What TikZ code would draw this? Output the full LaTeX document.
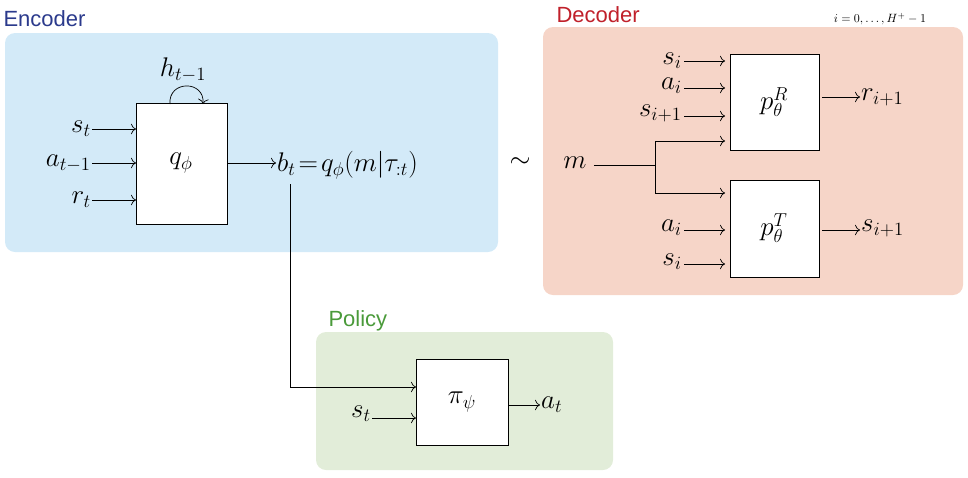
\documentclass[tikz,border=0pt]{standalone}
\usepackage{fontspec}
\newfontfamily\lab{Liberation Sans}
\usetikzlibrary{arrows.meta}
\definecolor{encf}{HTML}{D3EAF8}
\definecolor{decf}{HTML}{F6D5C8}
\definecolor{polf}{HTML}{E2EDD9}
\definecolor{encc}{HTML}{2B3A8C}
\definecolor{decc}{HTML}{C0202A}
\definecolor{polc}{HTML}{4A9A3A}
\newcommand{\LgMath}[1]{\scalebox{1.3}{\huge$#1$}}
\begin{document}
\begin{tikzpicture}[x=1pt,y=-1pt,
  title/.style={font=\lab\fontsize{22}{24}\selectfont,anchor=west},
  blk/.style={draw,fill=white,line width=0.8pt},
  m/.style={inner sep=1pt},
  arr/.style={-{To[length=5pt]},line width=0.7pt}]
\useasboundingbox (0,0) rectangle (968,477);
\fill[encf,rounded corners=10pt] (5,33) rectangle (498,252);
\fill[decf,rounded corners=10pt] (543,27) rectangle (963,295);
\fill[polf,rounded corners=10pt] (316,332) rectangle (613,470);
\node[title,text=encc] (enc) at (0,19) {Encoder};
\node[title,text=decc] (dec) at (553,15) {Decoder};
\node[title,text=polc] (pol) at (325,321) {Policy};
\node (rng) at (880,19) {\scalebox{1.2}{\normalsize$i=0,\dots,H^{+}-1$}};
% encoder
\path[blk] (136,103) rectangle (227,224);
\node[m] (q) at (181,163) {\LgMath{q_\phi}};
\node[m] (h) at (183,70) {\LgMath{h_{t-1}}};
\draw[arr] (170,104) .. controls (168,80) and (205,80) .. (203,104);
\node[m,anchor=east] (st) at (92,129) {\LgMath{s_t}};
\node[m,anchor=east] (at1) at (92,163) {\LgMath{a_{t-1}}};
\node[m,anchor=east] (rt) at (92,200) {\LgMath{r_t}};
\coordinate (qi1) at (136,129); \coordinate (qi2) at (136,163); \coordinate (qi3) at (136,200);
\draw[arr] (st.east|-qi1) -- (qi1); \draw[arr] (at1.east|-qi2) -- (qi2); \draw[arr] (rt.east|-qi3) -- (qi3);
\node[m,anchor=west] (bt) at (276,165) {\LgMath{b_t\!=\!q_\phi(m|\tau_{:t})}};
\coordinate (qo) at (227,163);
\draw[arr] (qo) -- (bt.west|-qo);
\node[m] (sim) at (520,163) {\LgMath{\sim}};
\node[m] (mm) at (575,163) {\LgMath{m}};
% policy
\path[blk] (416,359) rectangle (508,445);
\node[m] (pi) at (462,402) {\LgMath{\pi_\psi}};
\coordinate (bd) at (290,184);
\coordinate (pin) at (416,387);
\draw[arr] (bd) |- (pin);
\node[m,anchor=east] (st2) at (372,414) {\LgMath{s_t}};
\coordinate (pin2) at (416,418);
\draw[arr] (st2.east|-pin2) -- (pin2);
\node[m,anchor=west] (at) at (540,405) {\LgMath{a_t}};
\coordinate (po) at (508,405);
\draw[arr] (po) -- (at.west|-po);
% decoder
\path[blk] (730,54) rectangle (819,150);
\node[m] (pR) at (774,102) {\LgMath{p_\theta^R}};
\path[blk] (730,180) rectangle (819,277);
\node[m] (pT) at (774,228) {\LgMath{p_\theta^T}};
\node[m,anchor=east] (d1) at (683,61) {\LgMath{s_i}};
\node[m,anchor=east] (d2) at (683,86) {\LgMath{a_i}};
\node[m,anchor=east] (d3) at (683,113) {\LgMath{s_{i+1}}};
\node[m,anchor=east] (d4) at (683,228) {\LgMath{a_i}};
\node[m,anchor=east] (d5) at (683,262) {\LgMath{s_i}};
\foreach \n/\y in {d1/61,d2/88,d3/116,d4/230,d5/264}{
  \coordinate (t\n) at (725,\y);
  \draw[arr] (684,\y) -- (t\n);}
\coordinate (mb) at (655,165);
\coordinate (mR) at (725,141); \coordinate (mT) at (725,193);
\draw[line width=0.7pt] (mm.east|-mb) ++(6,0) -- (mb);
\draw[arr] (mb) |- (mR); \draw[arr] (mb) |- (mT);
\node[m,anchor=west] (r1) at (860,97) {\LgMath{r_{i+1}}};
\node[m,anchor=west] (s1) at (860,228) {\LgMath{s_{i+1}}};
\coordinate (oR) at (822,97); \coordinate (oT) at (822,230);
\draw[arr] (oR) -- (r1.west|-oR); \draw[arr] (oT) -- (s1.west|-oT);
\end{tikzpicture}
\end{document}
